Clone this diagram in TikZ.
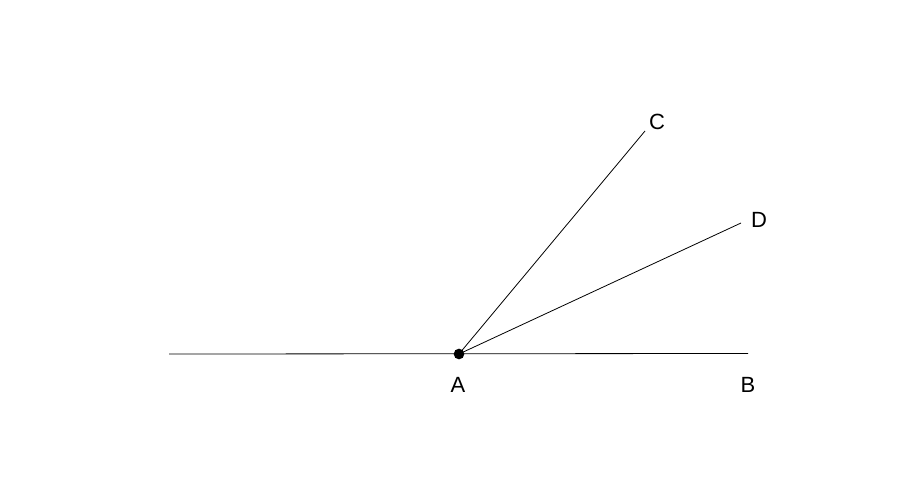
\documentclass[tikz,border=0pt]{standalone}
\usepackage{fontspec}
\setmainfont{Liberation Sans}
\begin{document}
\begin{tikzpicture}[x=0.75pt,y=-0.75pt,
  seg/.style={line width=0.6pt,black},
  lbl/.style={font=\fontsize{16.5}{19}\selectfont,inner sep=0pt}]
\useasboundingbox (0,0) rectangle (917,502);
\coordinate (L) at (169,354);
\coordinate (A) at (459,354);
\coordinate (B) at (748,353.5);
\coordinate (C) at (645,131);
\coordinate (D) at (741,223);
\draw[seg] (L) -- (B);
\draw[seg] (A) -- (C);
\draw[seg] (A) -- (D);
\fill (A) circle[radius=4pt];
\node[lbl] (la) at (458,385) {A};
\node[lbl] (lb) at (748,385) {B};
\node[lbl] (lc) at (657,122) {C};
\node[lbl] (ld) at (759,220) {D};
\end{tikzpicture}
\end{document}
